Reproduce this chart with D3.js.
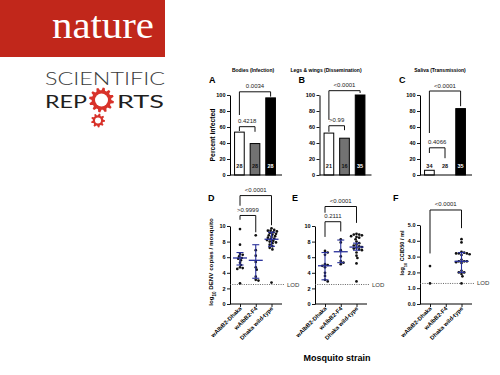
<!DOCTYPE html>
<html>
<head>
<meta charset="utf-8">
<script src="https://cdn.jsdelivr.net/npm/d3@7"></script>
<style>
body { margin: 0; background: #fff; }
svg { display: block; }
text { font-family: 'Liberation Sans', Arial, sans-serif; }
</style>
</head>
<body>
<div id="chart"></div>
<script>
// values
var strains = ['wAlbB2-Dhaka', 'wAlbB2-F4', 'Dhaka wild-type'];
var pctTicks = [0, 20, 40, 60, 80, 100];
var logTicks = [0, 2, 4, 6, 8, 10];
var ccidTicks = [0, 1, 2, 3, 4, 5];

// top row, percent infected + sample sizes
var bodiesPct = [53.6, 39.3, 96.4];
var bodiesN = [28, 28, 28];
var bodiesP = ['0.4218', '0.0034'];
var legsPct = [52.4, 46, 100];
var legsN = [21, 16, 35];
var legsP = ['>0.99', '<0.0001'];
var salivaPct = [5.9, 0, 83];
var salivaN = [34, 28, 35];
var salivaP = ['0.4066', '<0.0001'];

// bottom row, individual mosquitoes
var denvBodies = [
  [9.6, 7.6, 6.4, 6.3, 6.1, 5.9, 5.8, 5.6, 5.3, 5.0, 4.7, 4.6, 4.5, 2.65],
  [8.8, 6.9, 6.2, 5.4, 4.7, 4.4, 3.5, 3.1, 3.0],
  [9.7, 9.5, 9.4, 9.4, 9.3, 9.2, 9.1, 9.0, 8.9, 8.8, 8.7, 8.6, 8.5, 8.4, 8.3, 8.2, 8.1, 8.0, 7.9, 7.8, 7.6, 7.4, 7.2, 7.0, 2.75]
];
var denvBodiesMean = [5.9, 5.6, 8.3];
var denvBodiesLow = [5.0, 3.3, 7.4];
var denvBodiesHigh = [6.6, 7.6, 9.2];
var denvBodiesP = ['>0.9999', '<0.0001'];

var denvLegs = [
  [6.8, 6.6, 6.3, 5.1, 5.0, 4.9, 4.7, 4.0, 3.6, 3.1, 2.9],
  [8.3, 7.9, 6.9, 6.1, 5.5, 5.3, 5.1],
  [9.0, 8.9, 8.9, 8.8, 8.7, 8.6, 8.5, 8.3, 8.0, 7.8, 7.6, 7.5, 7.4, 7.3, 7.2, 7.1, 7.0, 6.9, 6.6, 6.2, 5.9, 5.2, 2.9]
];
var denvLegsMean = [4.9, 6.7, 7.3];
var denvLegsLow = [3.1, 5.3, 6.9];
var denvLegsHigh = [6.6, 8.2, 7.8];
var denvLegsP = ['0.2111', '<0.0001'];

var ccidSaliva = [
  [2.4, 1.3],
  [],
  [4.1, 3.9, 3.3, 3.25, 3.2, 3.2, 3.2, 3.15, 3.1, 2.8, 2.7, 2.7, 2.7, 2.65, 2.6, 2.1, 2.0, 2.0, 1.9, 1.75, 1.3]
];
var ccidSalivaMean = [null, null, 2.7];
var ccidSalivaLow = [null, null, 2.0];
var ccidSalivaHigh = [null, null, 3.25];
var ccidSalivaP = ['<0.0001'];

var denvLod = 2.5;
var ccidLod = 1.3;

var blue = '#28309a';

var svg = d3.select('#chart').append('svg')
  .attr('width', 500)
  .attr('height', 375);

svg.append('rect').attr('width', 500).attr('height', 375).attr('fill', '#fff');

// Journal logos
svg.append('rect')
  .attr('x', 0).attr('y', 0)
  .attr('width', 165).attr('height', 57)
  .attr('fill', '#c1271b');
svg.append('text')
  .attr('x', 52).attr('y', 38)
  .attr('textLength', 102).attr('lengthAdjust', 'spacingAndGlyphs')
  .style('font-family', "'Liberation Serif', 'DejaVu Serif', serif")
  .style('font-size', '37px')
  .attr('fill', '#fff')
  .text('nature');
svg.append('text')
  .attr('x', 45).attr('y', 85)
  .attr('textLength', 120).attr('lengthAdjust', 'spacingAndGlyphs')
  .style('font-family', 'Lato, sans-serif')
  .style('font-weight', 300)
  .style('font-size', '18px')
  .attr('fill', '#3a3a3a')
  .text('SCIENTIFIC');
svg.append('text')
  .attr('x', 45).attr('y', 108)
  .attr('textLength', 42).attr('lengthAdjust', 'spacingAndGlyphs')
  .style('font-family', 'Lato, sans-serif')
  .style('font-size', '18px')
  .attr('fill', '#1e1e1e')
  .text('REP');
svg.append('text')
  .attr('x', 117).attr('y', 108)
  .attr('textLength', 47).attr('lengthAdjust', 'spacingAndGlyphs')
  .style('font-family', 'Lato, sans-serif')
  .style('font-size', '18px')
  .attr('fill', '#1e1e1e')
  .text('RTS');

function gear(cx, cy, rOut, rIn, teeth, hole) {
  var pts = [];
  var step = 2 * Math.PI / teeth;
  d3.range(teeth).forEach(function(i) {
    var a = i * step;
    pts.push([a, rIn], [a + step * 0.2, rOut], [a + step * 0.5, rOut], [a + step * 0.7, rIn]);
  });
  svg.append('path')
    .attr('transform', 'translate(' + cx + ',' + cy + ')')
    .attr('d', d3.lineRadial().curve(d3.curveLinearClosed)(pts))
    .attr('fill', '#d8322a');
  svg.append('circle')
    .attr('cx', cx).attr('cy', cy).attr('r', hole)
    .attr('fill', '#fff');
}
gear(101.5, 100, 12.5, 9.8, 12, 6.5);
gear(98, 120.5, 7, 5.2, 9, 3);

// helpers
function styleAxis(sel) {
  sel.attr('font-family', null).attr('font-size', null);
  sel.select('.domain').attr('stroke-width', 1);
  sel.selectAll('.tick line').attr('stroke-width', 0.9);
  sel.selectAll('.tick text')
    .style('font-size', '5.5px')
    .style('font-weight', 'bold');
}

function bracket(g, x1, x2, yTop, yL, yR, label) {
  g.append('path')
    .attr('d', 'M' + x1 + ',' + yL + 'V' + yTop + 'H' + x2 + 'V' + yR)
    .attr('fill', 'none')
    .attr('stroke', '#111')
    .attr('stroke-width', 1);
  g.append('text')
    .attr('x', (x1 + x2) / 2)
    .attr('y', yTop - 3.5)
    .attr('text-anchor', 'middle')
    .style('font-size', '6px')
    .attr('fill', '#222')
    .text(label);
}

function panelText(x, y, txt, size, weight, anchor) {
  return svg.append('text')
    .attr('x', x).attr('y', y)
    .attr('text-anchor', anchor || 'start')
    .style('font-size', size + 'px')
    .style('font-weight', weight || 'bold')
    .text(txt);
}

// bar panels (percent infected)
function barPanel(o) {
  var g = svg.append('g');
  var y = d3.scaleLinear().domain([0, 100]).range([175, 95]);
  var x = d3.scaleBand().domain(strains)
    .range([o.x0 + 3, o.x0 + 47])
    .paddingInner(0.38).paddingOuter(0.1);
  var bw = x.bandwidth();

  var ya = g.append('g')
    .attr('transform', 'translate(' + o.x0 + ',0)')
    .call(d3.axisLeft(y).tickValues(pctTicks).tickSize(3).tickSizeOuter(0).tickPadding(1.5));
  styleAxis(ya);

  g.selectAll('.bar')
    .data(o.pct)
    .join('rect')
    .attr('x', function(d, i) { return x(strains[i]); })
    .attr('y', function(d) { return y(d); })
    .attr('width', bw)
    .attr('height', function(d) { return y(0) - y(d); })
    .attr('fill', function(d, i) { return ['#fff', '#727272', '#000'][i]; })
    .attr('stroke', '#000')
    .attr('stroke-width', function(d) { return d > 0 ? 1 : 0; });

  g.append('line')
    .attr('x1', o.x0).attr('x2', o.x0 + 52)
    .attr('y1', y(0)).attr('y2', y(0))
    .attr('stroke', '#000').attr('stroke-width', 1);

  g.selectAll('.nlab')
    .data(o.n)
    .join('text')
    .attr('x', function(d, i) { return x(strains[i]) + bw / 2; })
    .attr('y', 168)
    .attr('text-anchor', 'middle')
    .style('font-size', '5.5px')
    .style('font-weight', 'bold')
    .attr('fill', function(d, i) { return i === 2 ? '#fff' : '#111'; })
    .text(function(d) { return d; });

  o.brackets.forEach(function(b, k) {
    bracket(g, x(strains[b[0]]) + bw / 2, x(strains[b[1]]) + bw / 2,
      y(b[2]), y(b[3]), y(b[4]), o.p[k]);
  });

  panelText(o.x0 - 21, 83, o.letter, 9);
  panelText(o.tx, 72, o.title, 5, 'bold', 'middle');
}

// deterministic beeswarm so points sharing a value sit side by side
function swarm(vals, cx, y, r) {
  var placed = [];
  vals.map(function(v) { return y(v); })
    .sort(function(a, b) { return a - b; })
    .forEach(function(py) {
      for (var s = 0; s < 60; s++) {
        var off = s === 0 ? 0 : (s % 2 ? 1 : -1) * Math.ceil(s / 2) * 0.9;
        var hit = placed.some(function(q) {
          var dx = q[0] - (cx + off), dy = q[1] - py;
          return dx * dx + dy * dy < (2 * r - 0.3) * (2 * r - 0.3);
        });
        if (!hit) { placed.push([cx + off, py]); break; }
      }
    });
  return placed;
}

// dot panels (titres)
function dotPanel(o) {
  var g = svg.append('g');
  var y = d3.scaleLinear().domain([0, o.ticks[o.ticks.length - 1]]).range([304, o.yTop]);
  var x = d3.scalePoint().domain(strains).range([o.x0 + 10, o.x0 + 41.5]);

  var ya = g.append('g')
    .attr('transform', 'translate(' + o.x0 + ',0)')
    .call(d3.axisLeft(y).tickValues(o.ticks).tickSize(3).tickSizeOuter(0).tickPadding(1.5));
  styleAxis(ya);

  var xa = g.append('g')
    .attr('transform', 'translate(0,304)')
    .call(d3.axisBottom(x).tickSize(3).tickSizeOuter(0).tickFormat(''));
  xa.select('.domain').remove();
  styleAxis(xa);
  g.append('line')
    .attr('x1', o.x0).attr('x2', o.x0 + 52)
    .attr('y1', 304).attr('y2', 304)
    .attr('stroke', '#000').attr('stroke-width', 1);

  g.selectAll('.xlab')
    .data(strains)
    .join('text')
    .attr('transform', function(d) { return 'translate(' + (x(d) + 2) + ',309) rotate(-45)'; })
    .attr('text-anchor', 'end')
    .style('font-size', '5.8px')
    .style('font-weight', 'bold')
    .text(function(d) { return d; });

  // limit of detection
  g.append('line')
    .attr('x1', o.x0).attr('x2', o.x0 + 55)
    .attr('y1', y(o.lod)).attr('y2', y(o.lod))
    .attr('stroke', '#555').attr('stroke-width', 0.9)
    .attr('stroke-dasharray', '1,1.3');
  g.append('text')
    .attr('x', o.x0 + 57).attr('y', y(o.lod) + 2)
    .style('font-size', '6px')
    .attr('fill', '#333')
    .text('LOD');

  o.values.forEach(function(vals, i) {
    g.selectAll(null)
      .data(swarm(vals, x(strains[i]), y, 1.35))
      .join('circle')
      .attr('cx', function(d) { return d[0]; })
      .attr('cy', function(d) { return d[1]; })
      .attr('r', 1.35)
      .attr('fill', '#111');
  });

  o.mean.forEach(function(m, i) {
    if (m === null) return;
    var cx = x(strains[i]);
    g.append('line')
      .attr('x1', cx - 7).attr('x2', cx + 7)
      .attr('y1', y(m)).attr('y2', y(m))
      .attr('stroke', blue).attr('stroke-width', 1.3);
    g.append('line')
      .attr('x1', cx).attr('x2', cx)
      .attr('y1', y(o.low[i])).attr('y2', y(o.high[i]))
      .attr('stroke', blue).attr('stroke-width', 1.1);
    [o.low[i], o.high[i]].forEach(function(v) {
      g.append('line')
        .attr('x1', cx - 3.5).attr('x2', cx + 3.5)
        .attr('y1', y(v)).attr('y2', y(v))
        .attr('stroke', blue).attr('stroke-width', 1.1);
    });
  });

  o.brackets.forEach(function(b, k) {
    bracket(g, x(strains[b[0]]), x(strains[b[1]]), y(b[2]), y(b[3]), y(b[4]), o.p[k]);
  });

  panelText(o.lx, 201, o.letter, 9);
}

barPanel({ x0: 230, letter: 'A', title: 'Bodies (Infection)', tx: 253,
  pct: bodiesPct, n: bodiesN, p: bodiesP,
  brackets: [[0, 1, 60.4, 55, 54], [0, 2, 104, 75, 98]] });
barPanel({ x0: 319.5, letter: 'B', title: 'Legs & wings (Dissemination)', tx: 326,
  pct: legsPct, n: legsN, p: legsP,
  brackets: [[0, 1, 61.6, 54, 56], [0, 2, 105.4, 69, 102.5]] });
barPanel({ x0: 420, letter: 'C', title: 'Saliva (Transmission)', tx: 440,
  pct: salivaPct, n: salivaN, p: salivaP,
  brackets: [[0, 1, 34, 27.5, 21], [0, 2, 105, 52.5, 86]] });

dotPanel({ x0: 230, yTop: 226, ticks: logTicks, lod: denvLod, letter: 'D', lx: 208,
  values: denvBodies, mean: denvBodiesMean, low: denvBodiesLow, high: denvBodiesHigh, p: denvBodiesP,
  brackets: [[0, 1, 11.35, 10.8, 9.2], [0, 2, 13.9, 12.6, 10.1]] });
dotPanel({ x0: 315, yTop: 226, ticks: logTicks, lod: denvLod, letter: 'E', lx: 292,
  values: denvLegs, mean: denvLegsMean, low: denvLegsLow, high: denvLegsHigh, p: denvLegsP,
  brackets: [[0, 1, 10.55, 8.6, 9.3], [0, 2, 12.5, 11.7, 10.4]] });
dotPanel({ x0: 420, yTop: 225, ticks: ccidTicks, lod: ccidLod, letter: 'F', lx: 393,
  values: ccidSaliva, mean: ccidSalivaMean, low: ccidSalivaLow, high: ccidSalivaHigh, p: ccidSalivaP,
  brackets: [[0, 2, 5.95, 3.2, 4.8]] });

// axis titles
panelText(0, 0, 'Percent infected', 6.8, 'bold', 'middle')
  .attr('transform', 'translate(215,135) rotate(-90)');

var dl = panelText(0, 0, 'log', 6.2, 'bold', 'middle')
  .attr('transform', 'translate(213,262) rotate(-90)');
dl.append('tspan').attr('baseline-shift', 'sub').style('font-size', '4.5px').text('10');
dl.append('tspan').text(' DENV copies / mosquito');

var fl = panelText(0, 0, 'log', 5.5, 'bold', 'middle')
  .attr('transform', 'translate(404,253) rotate(-90)');
fl.append('tspan').attr('baseline-shift', 'sub').style('font-size', '4px').text('10');
fl.append('tspan').text(' CCID50 / ml');

panelText(337, 361, 'Mosquito strain', 9, 'bold', 'middle');
</script>
</body>
</html>
